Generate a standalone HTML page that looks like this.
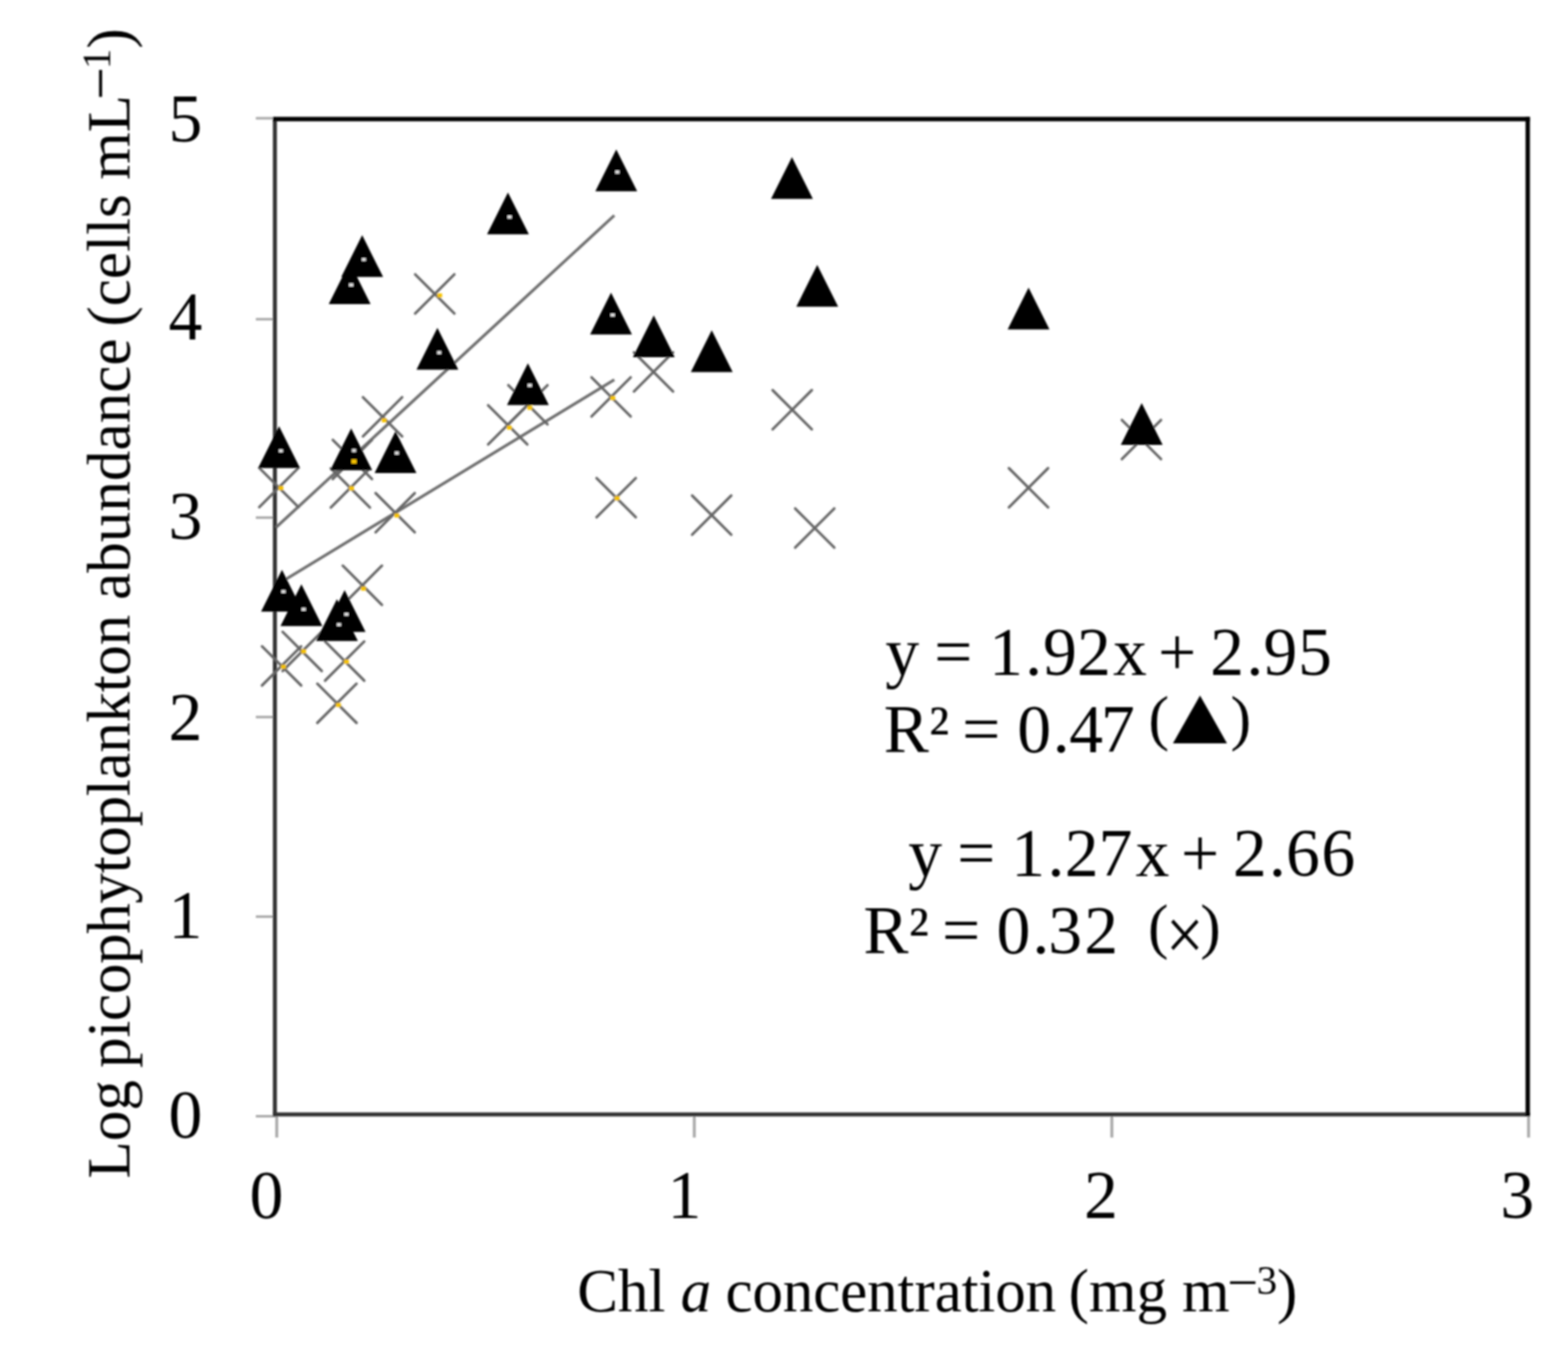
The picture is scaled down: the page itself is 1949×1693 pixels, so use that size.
<!DOCTYPE html>
<html><head><meta charset="utf-8"><title>Log picophytoplankton abundance vs Chl a</title>
<style>html,body{margin:0;padding:0;background:#fff;}svg{display:block;}text{font-family:"Liberation Serif",serif;fill:#000;}</style></head><body>
<svg width="1949" height="1693" viewBox="0 0 1949 1693">
<rect width="1949" height="1693" fill="#fff"/>
<defs><filter id="bl" x="0" y="0" width="1949" height="1693" filterUnits="userSpaceOnUse"><feGaussianBlur stdDeviation="1.0"/></filter></defs>
<g filter="url(#bl)">
<line x1="318" y1="147.0" x2="342" y2="147.0" stroke="#a6a6a6" stroke-width="3"/>
<line x1="318" y1="396.8" x2="342" y2="396.8" stroke="#a6a6a6" stroke-width="3"/>
<line x1="318" y1="643.4" x2="342" y2="643.4" stroke="#a6a6a6" stroke-width="3"/>
<line x1="318" y1="891.3" x2="342" y2="891.3" stroke="#a6a6a6" stroke-width="3"/>
<line x1="318" y1="1139.4" x2="342" y2="1139.4" stroke="#a6a6a6" stroke-width="3"/>
<line x1="318" y1="1387.5" x2="342" y2="1387.5" stroke="#a6a6a6" stroke-width="3"/>
<line x1="344.0" y1="1385" x2="344.0" y2="1414" stroke="#a6a6a6" stroke-width="3.5"/>
<line x1="863.0" y1="1385" x2="863.0" y2="1414" stroke="#a6a6a6" stroke-width="3.5"/>
<line x1="1382.0" y1="1385" x2="1382.0" y2="1414" stroke="#a6a6a6" stroke-width="3.5"/>
<line x1="1900.0" y1="1385" x2="1900.0" y2="1414" stroke="#a6a6a6" stroke-width="3.5"/>
<line x1="341.7" y1="146" x2="341.7" y2="1387.5" stroke="#333" stroke-width="5"/>
<line x1="339.2" y1="1385.15" x2="1901.6" y2="1385.15" stroke="#333" stroke-width="5"/>
<line x1="339.2" y1="147.95" x2="1901.6" y2="147.95" stroke="#000" stroke-width="5.4"/>
<line x1="1898.95" y1="145.3" x2="1898.95" y2="1387.6" stroke="#000" stroke-width="5.4"/>
<line x1="343" y1="655.6" x2="763.6" y2="267.7" stroke="#6e6e6e" stroke-width="3.6"/>
<line x1="343" y1="727.5" x2="763.6" y2="472.0" stroke="#6e6e6e" stroke-width="3.6"/>
<path d="M516.1 341.1L564.7 389.7M516.1 389.7L564.7 341.1" stroke="#666666" stroke-width="3.3" stroke-linecap="round" fill="none"/>
<path d="M451.2 493.8L499.8 542.4M451.2 542.4L499.8 493.8" stroke="#666666" stroke-width="3.3" stroke-linecap="round" fill="none"/>
<path d="M606.8 503.8L655.4 552.4M606.8 552.4L655.4 503.8" stroke="#666666" stroke-width="3.3" stroke-linecap="round" fill="none"/>
<path d="M631.9 478.8L680.5 527.4M631.9 527.4L680.5 478.8" stroke="#666666" stroke-width="3.3" stroke-linecap="round" fill="none"/>
<path d="M735.3 469.1L783.9 517.7M735.3 517.7L783.9 469.1" stroke="#666666" stroke-width="3.3" stroke-linecap="round" fill="none"/>
<path d="M788.0 438.0L836.6 486.6M788.0 486.6L836.6 438.0" stroke="#666666" stroke-width="3.3" stroke-linecap="round" fill="none"/>
<path d="M960.4 485.0L1009.0 533.6M960.4 533.6L1009.0 485.0" stroke="#666666" stroke-width="3.3" stroke-linecap="round" fill="none"/>
<path d="M741.6 594.3L790.2 642.9M741.6 642.9L790.2 594.3" stroke="#666666" stroke-width="3.3" stroke-linecap="round" fill="none"/>
<path d="M860.3 616.0L908.9 664.6M860.3 664.6L908.9 616.0" stroke="#666666" stroke-width="3.3" stroke-linecap="round" fill="none"/>
<path d="M988.4 632.1L1037.0 680.7M988.4 680.7L1037.0 632.1" stroke="#666666" stroke-width="3.3" stroke-linecap="round" fill="none"/>
<path d="M1254.1 582.0L1302.7 630.6M1254.1 630.6L1302.7 582.0" stroke="#666666" stroke-width="3.3" stroke-linecap="round" fill="none"/>
<path d="M1394.5 522.1L1443.1 570.7M1394.5 570.7L1443.1 522.1" stroke="#666666" stroke-width="3.3" stroke-linecap="round" fill="none"/>
<path d="M322.3 581.7L370.9 630.3M322.3 630.3L370.9 581.7" stroke="#666666" stroke-width="3.3" stroke-linecap="round" fill="none"/>
<path d="M411.2 582.2L459.8 630.8M411.2 630.8L459.8 582.2" stroke="#666666" stroke-width="3.3" stroke-linecap="round" fill="none"/>
<path d="M413.7 546.8L462.3 595.4M413.7 595.4L462.3 546.8" stroke="#666666" stroke-width="3.3" stroke-linecap="round" fill="none"/>
<path d="M466.9 613.0L515.5 661.6M466.9 661.6L515.5 613.0" stroke="#666666" stroke-width="3.3" stroke-linecap="round" fill="none"/>
<path d="M426.1 703.2L474.7 751.8M426.1 751.8L474.7 703.2" stroke="#666666" stroke-width="3.3" stroke-linecap="round" fill="none"/>
<path d="M351.3 785.4L399.9 834.0M351.3 834.0L399.9 785.4" stroke="#666666" stroke-width="3.3" stroke-linecap="round" fill="none"/>
<path d="M325.7 803.4L374.3 852.0M325.7 852.0L374.3 803.4" stroke="#666666" stroke-width="3.3" stroke-linecap="round" fill="none"/>
<path d="M404.1 797.4L452.7 846.0M404.1 846.0L452.7 797.4" stroke="#666666" stroke-width="3.3" stroke-linecap="round" fill="none"/>
<path d="M394.5 849.9L443.1 898.5M394.5 898.5L443.1 849.9" stroke="#666666" stroke-width="3.3" stroke-linecap="round" fill="none"/>
<polygon points="346.9,529.8 372.9,581.8 320.9,581.8" fill="#000"/>
<polygon points="436.5,532.5 462.5,584.5 410.5,584.5" fill="#000"/>
<polygon points="491.6,536.0 517.6,588.0 465.6,588.0" fill="#000"/>
<polygon points="450.2,292.3 476.2,344.3 424.2,344.3" fill="#000"/>
<polygon points="434.6,326.0 460.6,378.0 408.6,378.0" fill="#000"/>
<polygon points="543.7,407.4 569.7,459.4 517.7,459.4" fill="#000"/>
<polygon points="631.4,239.2 657.4,291.2 605.4,291.2" fill="#000"/>
<polygon points="656.2,451.4 682.2,503.4 630.2,503.4" fill="#000"/>
<polygon points="766.0,185.8 792.0,237.8 740.0,237.8" fill="#000"/>
<polygon points="759.5,363.7 785.5,415.7 733.5,415.7" fill="#000"/>
<polygon points="812.6,392.0 838.6,444.0 786.6,444.0" fill="#000"/>
<polygon points="884.7,410.6 910.7,462.6 858.7,462.6" fill="#000"/>
<polygon points="984.4,195.3 1010.4,247.3 958.4,247.3" fill="#000"/>
<polygon points="1015.8,329.2 1041.8,381.2 989.8,381.2" fill="#000"/>
<polygon points="1278.5,357.5 1304.5,409.5 1252.5,409.5" fill="#000"/>
<polygon points="1419.1,500.9 1445.1,552.9 1393.1,552.9" fill="#000"/>
<polygon points="350.5,708.3 376.5,760.3 324.5,760.3" fill="#000"/>
<polygon points="374.6,726.3 400.6,778.3 348.6,778.3" fill="#000"/>
<polygon points="428.4,733.4 454.4,785.4 402.4,785.4" fill="#000"/>
<polygon points="418.8,744.7 444.8,796.7 392.8,796.7" fill="#000"/>
<rect x="346.6" y="558.6" width="5" height="3.6" fill="#e8e8e8"/>
<rect x="437.5" y="558.2" width="5" height="3.6" fill="#e8e8e8"/>
<rect x="490.7" y="561.3" width="5" height="3.6" fill="#e8e8e8"/>
<rect x="449.7" y="320.8" width="5" height="3.6" fill="#e8e8e8"/>
<rect x="434.0" y="352.3" width="5" height="3.6" fill="#e8e8e8"/>
<rect x="543.4" y="436.4" width="5" height="3.6" fill="#e8e8e8"/>
<rect x="630.9" y="268.0" width="5" height="3.6" fill="#e8e8e8"/>
<rect x="656.0" y="477.2" width="5" height="3.6" fill="#e8e8e8"/>
<rect x="764.8" y="212.1" width="5" height="3.6" fill="#e8e8e8"/>
<rect x="759.0" y="389.8" width="5" height="3.6" fill="#e8e8e8"/>
<rect x="349.8" y="733.5" width="5" height="3.6" fill="#e8e8e8"/>
<rect x="374.9" y="755.5" width="5" height="3.6" fill="#e8e8e8"/>
<rect x="428.1" y="761.8" width="5" height="3.6" fill="#e8e8e8"/>
<rect x="418.8" y="774.6" width="5" height="3.6" fill="#e8e8e8"/>
<rect x="543.6" y="364.7" width="6" height="5" fill="#f7c300"/>
<rect x="474.5" y="520.0" width="6" height="5" fill="#f7c300"/>
<rect x="630.1" y="529.1" width="6" height="5" fill="#f7c300"/>
<rect x="655.5" y="504.5" width="6" height="5" fill="#f7c300"/>
<rect x="758.7" y="492.3" width="6" height="5" fill="#f7c300"/>
<rect x="764.0" y="616.8" width="6" height="5" fill="#f7c300"/>
<rect x="346.2" y="604.2" width="6" height="5" fill="#f7c300"/>
<rect x="434.0" y="604.5" width="6" height="5" fill="#f7c300"/>
<rect x="437.0" y="571.1" width="6" height="5" fill="#f7c300"/>
<rect x="490.2" y="638.3" width="6" height="5" fill="#f7c300"/>
<rect x="448.8" y="729.2" width="6" height="5" fill="#f7c300"/>
<rect x="374.4" y="807.2" width="6" height="5" fill="#f7c300"/>
<rect x="349.3" y="826.3" width="6" height="5" fill="#f7c300"/>
<rect x="427.6" y="820.0" width="6" height="5" fill="#f7c300"/>
<rect x="417.6" y="873.8" width="6" height="5" fill="#f7c300"/>
<text x="251.5" y="176.0" font-size="84" text-anchor="end">5</text>
<text x="251.5" y="422.4" font-size="84" text-anchor="end">4</text>
<text x="251.5" y="670.4" font-size="84" text-anchor="end">3</text>
<text x="251.5" y="920.1" font-size="84" text-anchor="end">2</text>
<text x="251.5" y="1166.4" font-size="84" text-anchor="end">1</text>
<text x="251.5" y="1413.8" font-size="84" text-anchor="end">0</text>
<text x="331.3" y="1513.5" font-size="84" text-anchor="middle">0</text>
<text x="850.8" y="1513.5" font-size="84" text-anchor="middle">1</text>
<text x="1368.4" y="1513.5" font-size="84" text-anchor="middle">2</text>
<text x="1886.0" y="1513.5" font-size="84" text-anchor="middle">3</text>
<text x="1100.6 1101.6 1161.3 1162.3 1229.4 1274.2 1296.4 1338.8 1383.4 1384.4 1439.4 1440.4 1504.2 1549.2 1570.6 1613.4" y="839" font-size="84">y = 1.92x + 2.95</text>
<text x="1098.5 1154.7 1155.7 1196.0 1197.0 1264.5 1308.5 1328.9 1368.4" y="934.5" font-size="84">R² = 0.47</text>
<text x="1129.1 1130.1 1189.8 1190.8 1257.1 1301.9 1323.4 1365.6 1411.4 1412.4 1467.9 1468.9 1532.6 1577.3 1598.5 1642.4" y="1089" font-size="84">y = 1.27x + 2.66</text>
<text x="1073.2 1129.4 1130.4 1171.1 1172.1 1238.8 1283.2 1302.9 1347.8" y="1184.5" font-size="84">R² = 0.32</text>
<text x="1427.4" y="917.7" font-size="77">(</text>
<text x="0" y="0" font-size="101.7" transform="translate(1434.8 923.9) scale(1.13 1)">▲</text>
<text x="1529.6" y="917.7" font-size="77">)</text>
<text x="1427" y="1177.4" font-size="76">(</text>
<text x="1491.9" y="1177.4" font-size="76">)</text>
<text x="0" y="0" font-size="84" transform="translate(1472.6 1161.3) scale(1 1.12) translate(-23.7 27.9)">×</text>
<text y="1630" font-size="76" style="font-kerning:none"><tspan x="717.4">Chl </tspan><tspan x="846.0" font-style="italic">a</tspan><tspan> </tspan><tspan x="901.7" letter-spacing="-0.21">concentration</tspan><tspan> </tspan><tspan x="1328.3">(mg</tspan><tspan> </tspan><tspan x="1469.3">m</tspan><tspan x="1525.4" y="1617.2" font-size="68">−</tspan><tspan x="1562.1" y="1608.4" font-size="51">3</tspan><tspan x="1587.2" y="1630">)</tspan></text>
<text transform="translate(160.9 1500.0) rotate(-90)" y="0" font-size="76" style="font-kerning:none"><tspan x="35.1">Log</tspan><tspan> </tspan><tspan x="172.6" letter-spacing="-0.43">picophytoplankton</tspan><tspan> </tspan><tspan x="754.3">abundance</tspan><tspan> </tspan><tspan x="1094.0">(cells</tspan><tspan> </tspan><tspan x="1276.4">mL</tspan><tspan x="1376.0" y="-11.7" font-size="72">−</tspan><tspan x="1414.1" y="-23.6" font-size="51">1</tspan><tspan x="1439.5" y="0">)</tspan></text>
</g>
</svg></body></html>
